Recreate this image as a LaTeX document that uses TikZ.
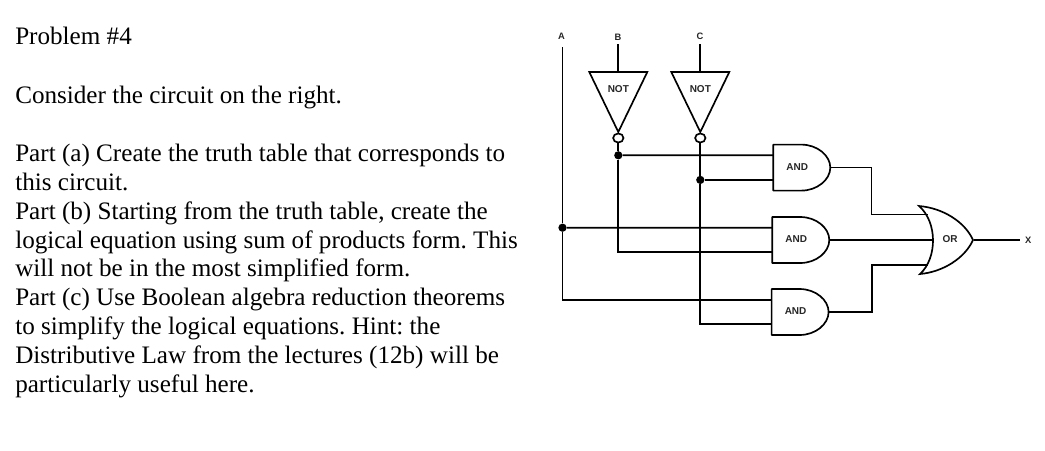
\documentclass[tikz,border=0pt]{standalone}
\usepackage{fontspec}
\setmainfont{Liberation Serif}
\setsansfont{Liberation Sans}
\frenchspacing

\tikzset{
    wire/.style={line width=1.25pt},
    heavywire/.style={line width=1.5pt},
    gatelabel/.style={font=\sffamily\bfseries\fontsize{7.5}{9}\selectfont, text=black!85, inner sep=0pt},
    pinlabel/.style={font=\sffamily\bfseries\fontsize{7}{8}\selectfont, text=black!85, inner sep=0pt},
    dot/.style={circle, fill=black, inner sep=0pt, minimum size=6.2pt},
    bodytext/.style={anchor=north west, align=left, inner sep=0pt, font=\fontsize{18.85}{21.6}\selectfont},
    andgate/.pic={
        \draw[wire, line join=round] (0,-23) -- (28,-23) .. controls (44,-23) and (57,-12) .. (57,0)
            .. controls (57,12) and (44,23) .. (28,23) -- (0,23) -- cycle;
        \node[gatelabel] (-label) at (24,-1) {AND};
        \coordinate (-a) at (0,-12.3);
        \coordinate (-b) at (0,12.3);
        \coordinate (-out) at (57,0);
    },
    notgate/.pic={
        \draw[wire, line join=miter] (-29,0) -- (29,0) -- (0,60) -- cycle;
        \draw[wire] (0,66) ellipse [x radius=3.9pt, y radius=3.4pt];
        \node[gatelabel] (-label) at (0,17.5) {NOT};
        \coordinate (-in) at (0,0);
        \coordinate (-out) at (0,70.5);
    },
    orgate/.pic={
        \draw[wire, line join=miter] (-14,-34) .. controls (10,-32) and (32,-18) .. (40,0)
            .. controls (32,18) and (10,32) .. (-13,34) .. controls (4.5,18) and (4.5,-18) .. cycle;
        \node[gatelabel] (-label) at (17,-1) {OR};
        \coordinate (-a) at (-5.5,-25.5);
        \coordinate (-b) at (0,0);
        \coordinate (-c) at (-5.5,25.2);
        \coordinate (-out) at (41,0);
    }
}

\begin{document}
\begin{tikzpicture}[x=0.75pt, y=-0.75pt]
    \useasboundingbox (0,0) rectangle (1045,450);

    % problem text
    \node[bodytext] (title) at (15,27) {Problem \#4};
    \node[bodytext] (intro) at (15,86) {Consider the circuit on the right.};
    \node[bodytext] (parts) at (15,144) {Part (a) Create the truth table that corresponds to\\
        this circuit.\\
        Part (b) Starting from the truth table, create the\\
        logical equation using sum of products form. This\\
        will not be in the most simplified form.\\
        Part (c) Use Boolean algebra reduction theorems\\
        to simplify the logical equations. Hint: the\\
        Distributive Law from the lectures (12b) will be\\
        particularly useful here.};

    % inputs
    \node[pinlabel] (labelA) at (561.5,36) {A};
    \node[pinlabel] (labelB) at (618,37) {B};
    \node[pinlabel] (labelC) at (700,36) {C};
    \coordinate (topA) at (562.5,47);
    \coordinate (topB) at (618.3,44);
    \coordinate (topC) at (700.3,44);

    % gates
    \pic (notB) at (618.3,72) {notgate};
    \pic (notC) at (700.3,72) {notgate};
    \pic (and1) at (773.3,167.6) {andgate};
    \pic (and2) at (772.3,240) {andgate};
    \pic (and3) at (771.6,312) {andgate};
    \pic (or) at (933,240) {orgate};
    \node[pinlabel] (labelX) at (1028.3,240) {X};

    % junctions
    \node[dot] (dotA) at (562.5,227.7) {};
    \node[dot] (dotB) at (618.3,155.3) {};
    \node[dot] (dotC) at (700.3,179.9) {};

    % input wires
    \draw[wire] (topA) -- (dotA);
    \draw[wire] (topB) -- (notB-in);
    \draw[wire] (topC) -- (notC-in);

    % A wires
    \draw[wire] (dotA) -- (and2-a);
    \draw[wire] (dotA) |- (and3-a);

    % B wires
    \draw[wire] (notB-out) -- (dotB);
    \draw[wire] (dotB) -- (and1-a);
    \draw[wire] (dotB) |- (and2-b);

    % C wires
    \draw[heavywire] (notC-out) -- (dotC);
    \draw[wire] (dotC) -- (and1-b);
    \draw[heavywire] (dotC) |- (and3-b);

    % outputs into the OR gate
    \draw[wire] (and1-out) -- ++(41.3,0) |- (or-a);
    \draw[wire] (and2-out) -- (or-b);
    \draw[wire] (and3-out) -- ++(43.7,0) |- (or-c);
    \draw[wire] (or-out) -- ++(46,0);
\end{tikzpicture}
\end{document}
